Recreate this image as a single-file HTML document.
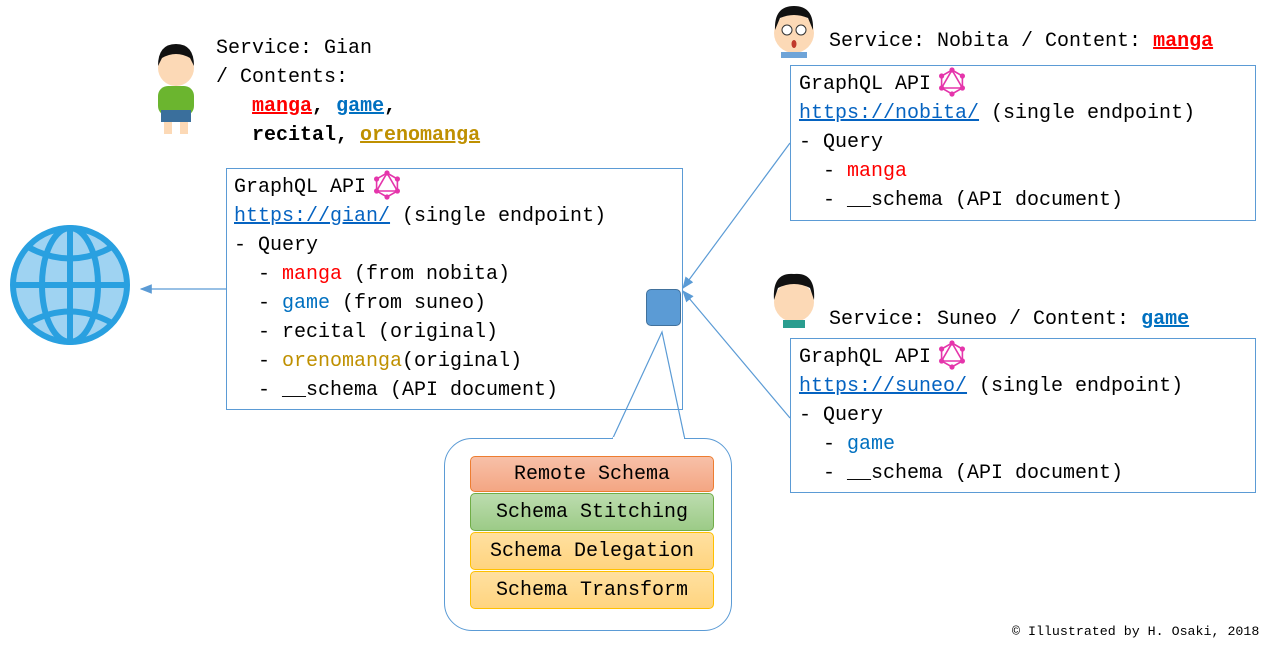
<!DOCTYPE html>
<html><head><meta charset="utf-8"><style>
body{margin:0;width:1279px;height:651px;background:#fff;position:relative;overflow:hidden;font-family:"Liberation Mono","Noto Sans CJK JP",monospace;font-size:20px;color:#000}
.t{position:absolute;white-space:pre;line-height:29px}
.box{position:absolute;border:1px solid #5b9bd5;background:#fff}
.r{color:#ff0000}.b{color:#0070c0}.y{color:#bf9000}
a{color:#0563c1;text-decoration:underline}
.u{text-decoration:underline;font-weight:bold}
.lay{position:absolute;left:470px;width:244px;height:35px;border-radius:5px;text-align:center;line-height:35px;font-size:20px}
</style></head><body>
<svg width="1279" height="651" style="position:absolute;left:0;top:0">
<defs><marker id="a" markerWidth="10" markerHeight="8" refX="9" refY="4" orient="auto"><path d="M0,0 L10,4 L0,8 z" fill="#5b9bd5"/></marker>
<symbol id="gq" viewBox="0 0 30 30"><g stroke="#e535ab" stroke-width="1.6" fill="none"><polygon points="15,3 25.4,9 25.4,21 15,27 4.6,21 4.6,9"/><polygon points="15,3 25.4,21 4.6,21"/></g><g fill="#e535ab"><circle cx="15" cy="3" r="2.6"/><circle cx="25.4" cy="9" r="2.6"/><circle cx="25.4" cy="21" r="2.6"/><circle cx="15" cy="27" r="2.6"/><circle cx="4.6" cy="21" r="2.6"/><circle cx="4.6" cy="9" r="2.6"/></g></symbol></defs>
<circle cx="70" cy="285" r="57" fill="#9fd3f2" stroke="#29a0e0" stroke-width="6"/>
<g stroke="#29a0e0" stroke-width="6" fill="none">
<line x1="13" y1="285" x2="127" y2="285"/><line x1="70" y1="228" x2="70" y2="342"/>
<ellipse cx="70" cy="285" rx="28" ry="57"/>
<path d="M28,247 Q70,270 112,247"/><path d="M28,323 Q70,300 112,323"/>
</g>
<line x1="226" y1="289" x2="141" y2="289" stroke="#5b9bd5" stroke-width="1.2" marker-end="url(#a)"/>
<line x1="790" y1="143" x2="683" y2="288" stroke="#5b9bd5" stroke-width="1.2" marker-end="url(#a)"/>
<line x1="790" y1="418" x2="683" y2="291" stroke="#5b9bd5" stroke-width="1.2" marker-end="url(#a)"/>
<g><circle cx="176" cy="68" r="18" fill="#fcd9b6"/><path d="M158,66 Q158,44 176,44 Q194,44 194,66 L190,58 Q176,50 162,58z" fill="#111"/>
<rect x="158" y="86" width="36" height="30" rx="10" fill="#6bb52f"/><rect x="161" y="110" width="30" height="12" fill="#3a6f9c"/><rect x="164" y="122" width="8" height="12" fill="#fcd9b6"/><rect x="180" y="122" width="8" height="12" fill="#fcd9b6"/></g>
<g><circle cx="794" cy="33" r="20" fill="#fcd9b6"/><path d="M775,30 Q774,6 794,6 Q814,6 813,30 L808,18 Q794,12 780,18z" fill="#111"/><circle cx="787" cy="30" r="5" fill="#fff" stroke="#333"/><circle cx="801" cy="30" r="5" fill="#fff" stroke="#333"/><ellipse cx="794" cy="44" rx="2.5" ry="4" fill="#c0392b"/><rect x="781" y="52" width="26" height="6" fill="#6fa4d8"/></g>
<g><circle cx="794" cy="302" r="20" fill="#fcd9b6"/><path d="M774,300 Q772,272 794,274 Q816,272 814,300 L810,288 Q794,280 778,288z" fill="#111"/><rect x="783" y="320" width="22" height="8" fill="#2a9d8f"/></g>
</svg>
<div class="box" style="left:226px;top:168px;width:455px;height:240px"></div>
<div style="position:absolute;left:682px;top:168px;width:1px;height:241px;background:#5b9bd5"></div>
<div style="position:absolute;left:646px;top:289px;width:35px;height:37px;background:#5b9bd5;border:1px solid #41719c;border-radius:5px;box-sizing:border-box"></div>

<div class="t" style="left:216px;top:34px">Service: Gian
/ Contents:
   <span class="u r">manga</span><b>,</b> <span class="u b">game</span><b>,</b>
   <b>recital,</b> <span class="u y">orenomanga</span></div>
<div class="t" style="left:234px;top:173px">GraphQL API
<a>https://gian/</a> (single endpoint)
- Query
  - <span class="r">manga</span> (from nobita)
  - <span class="b">game</span> (from suneo)
  - recital (original)
  - <span class="y">orenomanga</span>(original)
  - __schema (API document)</div>
<svg width="30" height="30" style="position:absolute;left:372px;top:170px"><use href="#gq"/></svg>

<svg width="1279" height="651" style="position:absolute;left:0;top:0"><path d="M612,440 L662,332 L685,440" fill="none" stroke="#5b9bd5" stroke-width="1.2"/></svg>
<div style="position:absolute;left:444px;top:438px;width:288px;height:193px;border:1px solid #5b9bd5;border-radius:28px;background:#fff;box-sizing:border-box"></div>
<div style="position:absolute;left:613px;top:437px;width:71px;height:3px;background:#fff"></div>
<div class="lay" style="top:456px;background:linear-gradient(#f7c0a8,#f4a683);border:1px solid #ed7d31;box-sizing:border-box;height:36px">Remote Schema</div>
<div class="lay" style="top:493px;background:linear-gradient(#bcdcae,#9ccb87);border:1px solid #70ad47;box-sizing:border-box;height:38px;line-height:38px">Schema Stitching</div>
<div class="lay" style="top:532px;background:linear-gradient(#ffe0a0,#ffd47f);border:1px solid #ffc000;box-sizing:border-box;height:38px;line-height:38px">Schema Delegation</div>
<div class="lay" style="top:571px;background:linear-gradient(#ffe0a0,#ffd47f);border:1px solid #ffc000;box-sizing:border-box;height:38px;line-height:38px">Schema Transform</div>

<div class="t" style="left:829px;top:27px">Service: Nobita / Content: <span class="u r">manga</span></div>
<div class="box" style="left:790px;top:65px;width:464px;height:154px"></div>
<div class="t" style="left:799px;top:70px">GraphQL API
<a>https://nobita/</a> (single endpoint)
- Query
  - <span class="r">manga</span>
  - __schema (API document)</div>
<svg width="30" height="30" style="position:absolute;left:937px;top:67px"><use href="#gq"/></svg>

<div class="t" style="left:829px;top:305px">Service: Suneo / Content: <span class="u b">game</span></div>
<div class="box" style="left:790px;top:338px;width:464px;height:153px"></div>
<div class="t" style="left:799px;top:343px">GraphQL API
<a>https://suneo/</a> (single endpoint)
- Query
  - <span class="b">game</span>
  - __schema (API document)</div>
<svg width="30" height="30" style="position:absolute;left:937px;top:340px"><use href="#gq"/></svg>

<div class="t" style="left:1012px;top:624px;font-size:13.3px;line-height:16px">© Illustrated by H. Osaki, 2018</div>
</body></html>
